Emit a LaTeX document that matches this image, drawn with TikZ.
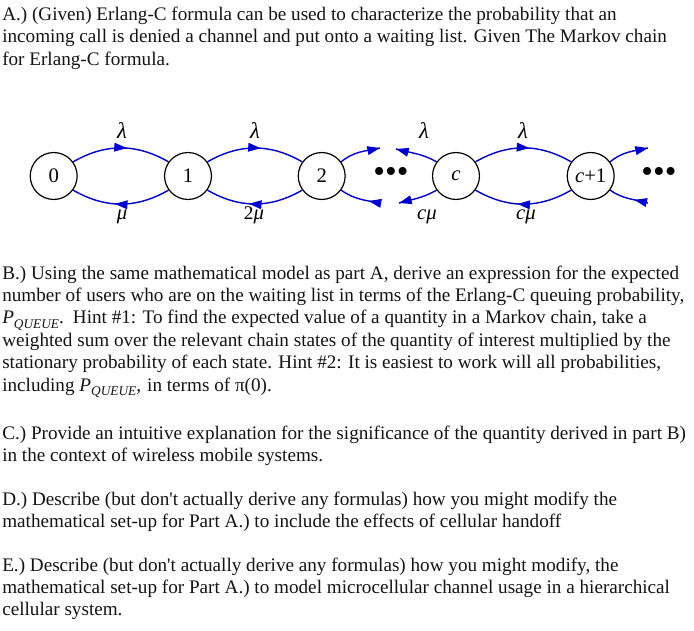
\documentclass[tikz,border=0pt]{standalone}
\usepackage{fontspec}
\setmainfont{Liberation Serif}
\usetikzlibrary{arrows.meta,decorations.markings}
\definecolor{arcblue}{RGB}{0,0,204}
\newcommand{\PQ}{{\itshape P\raisebox{-3.2pt}{\fontsize{10}{10}\selectfont QUEUE}}}
\tikzset{
  txt/.style={anchor=base west,inner sep=0pt,font=\fontsize{14.37}{16}\selectfont,text=black!92},
  state/.style={circle,draw=black,line width=0.9pt,minimum size=35.2pt,inner sep=0pt,font=\fontsize{15.5}{16}\selectfont},
  arcline/.style={draw=arcblue,line width=1.05pt},
  midarrow/.style={arcline,decoration={markings,mark=at position #1 with {\arrow[arcblue]{Triangle[length=9.5pt,width=6.5pt]}}},postaction={decorate}},
  midarrow/.default=0.56,
  lambdalabel/.style={anchor=base,inner sep=0pt,font=\fontsize{17}{18}\selectfont\itshape},
  rate/.style={anchor=base,inner sep=0pt,font=\fontsize{15.5}{18}\selectfont\itshape},
  dots/.style={inner sep=0pt,font=\fontsize{25}{26}\selectfont}
}
\begin{document}
\begin{tikzpicture}[x=0.75pt,y=-0.75pt]
\useasboundingbox (0,0) rectangle (694,631);
\node[txt] (a1) at (2,20.5) {A.) (Given) Erlang-C formula can be used to characterize the probability that an};
\node[txt] (a2) at (2,42.5) {incoming call is denied a channel and put onto a waiting list. Given The Markov chain};
\node[txt] (a3) at (2,65.5) {for Erlang-C formula.};

\node[state] (n0) at (53.7,176) {0};
\node[state] (n1) at (188,176) {1};
\node[state] (n2) at (321.7,176) {2};
\node[state] (nc) at (456,176) {\itshape c};
\node[state] (nd) at (590.7,176) {\textit{c}+1};

\coordinate (f2t) at (380,148);
\coordinate (f2b) at (380,203);
\coordinate (fct) at (396,149);
\coordinate (fcb) at (399,203);
\coordinate (fdt) at (648,148);
\coordinate (fdb) at (648,203);

\draw[midarrow] (n0.36) to[out=30,in=150] (n1.144);
\draw[midarrow] (n1.36) to[out=30,in=150] (n2.144);
\draw[midarrow] (nc.36) to[out=30,in=150] (nd.144);
\draw[midarrow] (n1.216) to[out=210,in=-30] (n0.-36);
\draw[midarrow] (n2.216) to[out=210,in=-30] (n1.-36);
\draw[midarrow] (nd.216) to[out=210,in=-30] (nc.-36);

\draw[midarrow=1] (n2.36) to[out=40,in=192] (f2t);
\draw[midarrow=0.28] (f2b) to[out=170,in=-35] (n2.-36);
\draw[midarrow=1] (nc.144) to[out=150,in=-15] (fct);
\draw[midarrow=1] (nc.216) to[out=210,in=15] (fcb);
\draw[midarrow=1] (nd.36) to[out=40,in=192] (fdt);
\draw[midarrow=0.35] (fdb) to[out=165,in=-35] (nd.-36);

\node[dots] (d1) at (391,175) {•••};
\node[dots] (d2) at (659,175) {•••};

\node[lambdalabel] (l1) at (122,139) {λ};
\node[lambdalabel] (l2) at (255,139) {λ};
\node[lambdalabel] (l3) at (424,139) {λ};
\node[lambdalabel] (l4) at (523,139) {λ};
\node[rate] (m1) at (122,220) {μ};
\node[rate] (m2) at (254,220) {{\upshape\fontsize{14.5}{18}\selectfont 2}μ};
\node[rate] (m3) at (427,220) {cμ};
\node[rate] (m4) at (526,220) {cμ};

\node[txt] (b1) at (2,279.5) {B.) Using the same mathematical model as part A, derive an expression for the expected};
\node[txt] (b2) at (2,301.5) {number of users who are on the waiting list in terms of the Erlang-C queuing probability,};
\node[txt] (b3) at (2,324) {\PQ.\hspace{2pt} Hint \#1: To find the expected value of a quantity in a Markov chain, take a};
\node[txt] (b4) at (2,346.5) {weighted sum over the relevant chain states of the quantity of interest multiplied by the};
\node[txt] (b5) at (2,369) {stationary probability of each state. Hint \#2: It is easiest to work will all probabilities,};
\node[txt] (b6) at (2,391.5) {including \PQ,\hspace{1pt} in terms of π(0).};

\node[txt] (c1) at (2,439.5) {C.) Provide an intuitive explanation for the significance of the quantity derived in part B)};
\node[txt] (c2) at (2,461.5) {in the context of wireless mobile systems.};

\node[txt] (d3) at (2,505.5) {D.) Describe (but don\textquotesingle t actually derive any formulas) how you might modify the};
\node[txt] (d4) at (2,527.5) {mathematical set-up for Part A.) to include the effects of cellular handoff};

\node[txt] (e1) at (2,571.5) {E.) Describe (but don\textquotesingle t actually derive any formulas) how you might modify, the};
\node[txt] (e2) at (2,593.5) {mathematical set-up for Part A.) to model microcellular channel usage in a hierarchical};
\node[txt] (e3) at (2,615.5) {cellular system.};
\end{tikzpicture}
\end{document}
